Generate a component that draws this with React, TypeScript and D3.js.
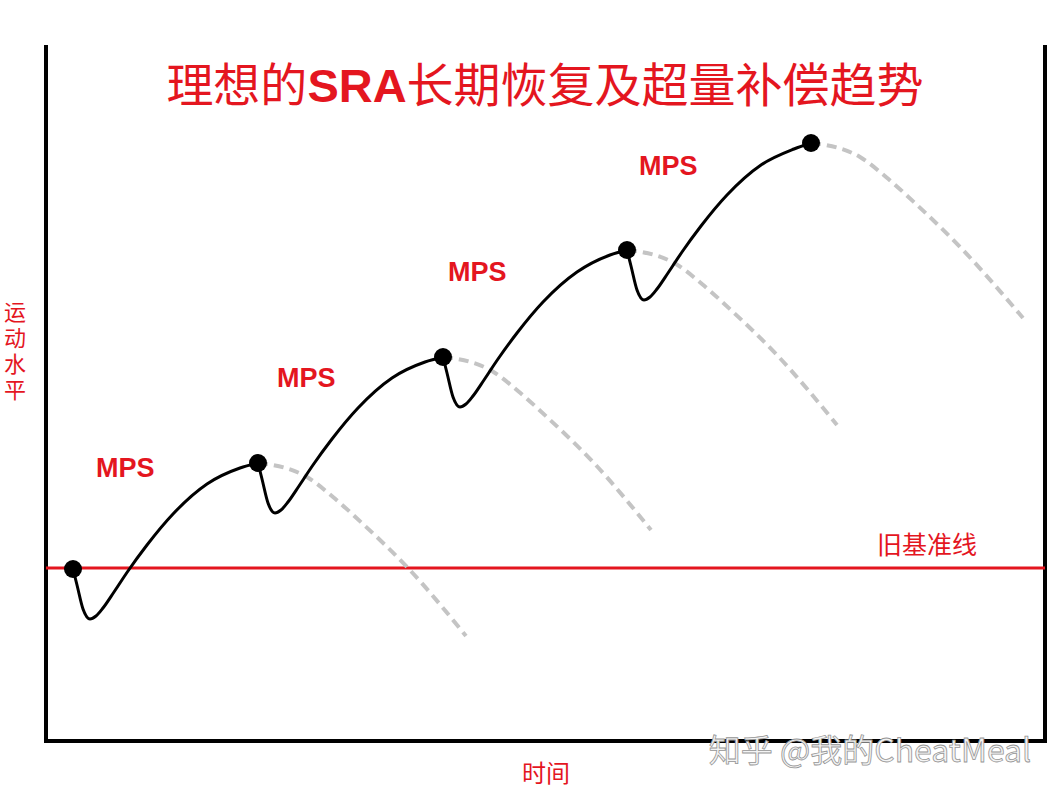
import React from "react";
import * as d3 from "d3";

// time (x) and performance level (y) in chart units
const baselineLevel = 173;

const peaks: [number, number][] = [
  [27, 172], [212, 278], [397, 384], [581, 491], [765, 598],
];

const solidSeg1: [number, number][] = [
  [27, 172], [31, 156], [37, 132], [44, 122], [50, 125], [57, 133], [68, 149], [82, 170], [101, 196], [127, 227], [161, 257], [194, 273], [212, 278],
];
const solidSeg2: [number, number][] = [
  [212, 278], [216, 262], [222, 238], [229, 228], [235, 231], [242, 239], [253, 255], [267, 276], [286, 302], [312, 333], [346, 363], [379, 379], [397, 384],
];
const solidSeg3: [number, number][] = [
  [397, 384], [401, 368], [407, 344], [414, 334], [420, 337], [427, 345], [438, 361], [452, 382], [471, 408], [497, 439], [531, 469], [564, 486], [581, 491],
];
const solidSeg4: [number, number][] = [
  [581, 491], [585, 475], [591, 451], [598, 441], [604, 444], [611, 452], [622, 468], [636, 489], [655, 515], [681, 546], [715, 576], [748, 592], [765, 598],
];

const dashed1: [number, number][] = [
  [212, 278], [227, 276], [261, 264], [287, 244], [317, 217], [362, 173], [420, 105],
];
const dashed2: [number, number][] = [
  [397, 384], [412, 382], [446, 370], [472, 350], [502, 323], [547, 279], [605, 211],
];
const dashed3: [number, number][] = [
  [581, 491], [596, 489], [630, 477], [656, 457], [686, 430], [731, 386], [791, 316],
];
const dashed4: [number, number][] = [
  [765, 598], [780, 596], [814, 584], [840, 564], [870, 537], [915, 493], [977, 423],
];

const solidSegments = [solidSeg1, solidSeg2, solidSeg3, solidSeg4];
const dashedSegments = [dashed1, dashed2, dashed3, dashed4];

const titleParts = [
  { text: "理想的", bold: false },
  { text: "SRA", bold: true },
  { text: "长期恢复及超量补偿趋势", bold: false },
];
const mpsLabel = "MPS";
const yAxisLabel = "运动水平";
const xAxisLabel = "时间";
const baselineLabel = "旧基准线";
const watermark = "知乎 @我的CheatMeal";

const W = 1059;
const H = 796;
const RED = "#e4161f";

export default function App() {
  const x = d3.scaleLinear().domain([0, 999]).range([46, 1045]);
  const y = d3.scaleLinear().domain([0, 696]).range([741, 45]);

  const line = d3
    .line<[number, number]>()
    .x((d) => x(d[0]))
    .y((d) => y(d[1]))
    .curve(d3.curveMonotoneX);

  const mpsPos = [
    [96, 477],
    [277, 387],
    [448, 281],
    [639, 175],
  ];

  const cjk = "'Noto Sans CJK SC', 'Noto Sans', sans-serif";

  return (
    <svg
      width={W}
      height={H}
      style={{ position: "absolute", left: 0, top: 0, background: "#fff" }}
    >
      <rect x={0} y={0} width={W} height={H} fill="#fff" />

      {/* frame */}
      <path
        d={`M${x(0)},${y(696)} L${x(0)},${y(0)} L${x(999)},${y(0)} L${x(999)},${y(696)}`}
        fill="none"
        stroke="#000"
        strokeWidth={4}
      />

      {/* baseline */}
      <line
        x1={x(0)}
        x2={x(999)}
        y1={y(baselineLevel)}
        y2={y(baselineLevel)}
        stroke={RED}
        strokeWidth={3}
      />

      {/* dashed decay curves */}
      {dashedSegments.map((seg, i) => (
        <path
          key={"d" + i}
          d={line(seg) || ""}
          fill="none"
          stroke="#c4c4c4"
          strokeWidth={4}
          strokeDasharray="10 6"
        />
      ))}

      {/* solid SRA curve */}
      {solidSegments.map((seg, i) => (
        <path
          key={"s" + i}
          d={line(seg) || ""}
          fill="none"
          stroke="#000"
          strokeWidth={3}
          strokeLinejoin="round"
        />
      ))}

      {peaks.map((p, i) => (
        <circle key={"p" + i} cx={x(p[0])} cy={y(p[1])} r={9} fill="#000" />
      ))}

      {/* MPS labels */}
      {mpsPos.map((p, i) => (
        <text
          key={"m" + i}
          x={p[0]}
          y={p[1]}
          fill={RED}
          fontFamily="'Liberation Sans', Arial, sans-serif"
          fontWeight="bold"
          fontSize={27}
        >
          {mpsLabel}
        </text>
      ))}

      {/* title */}
      <text
        x={545}
        y={102}
        textAnchor="middle"
        fill={RED}
        fontSize={47}
        fontFamily={cjk}
      >
        {titleParts.map((p, i) => (
          <tspan
            key={i}
            fontWeight={p.bold ? "bold" : "normal"}
            fontFamily={p.bold ? "'Liberation Sans', Arial, sans-serif" : cjk}
          >
            {p.text}
          </tspan>
        ))}
      </text>

      {/* y axis label (vertical) */}
      <text
        x={15}
        y={301}
        fill={RED}
        fontSize={22}
        fontFamily={cjk}
        letterSpacing={4}
        style={{ writingMode: "vertical-rl", textOrientation: "upright" } as any}
      >
        {yAxisLabel}
      </text>

      {/* x axis label */}
      <text
        x={546}
        y={782}
        textAnchor="middle"
        fill={RED}
        fontSize={24}
        fontFamily={cjk}
      >
        {xAxisLabel}
      </text>

      {/* baseline label */}
      <text
        x={927}
        y={554}
        textAnchor="middle"
        fill={RED}
        fontSize={25}
        fontFamily={cjk}
      >
        {baselineLabel}
      </text>

      {/* watermark */}
      <text
        x={870}
        y={762}
        textAnchor="middle"
        fill="#f4f4f4"
        stroke="#959595"
        strokeWidth={0.8}
        fontSize={32}
        fontFamily={cjk}
      >
        {watermark}
      </text>
    </svg>
  );
}
